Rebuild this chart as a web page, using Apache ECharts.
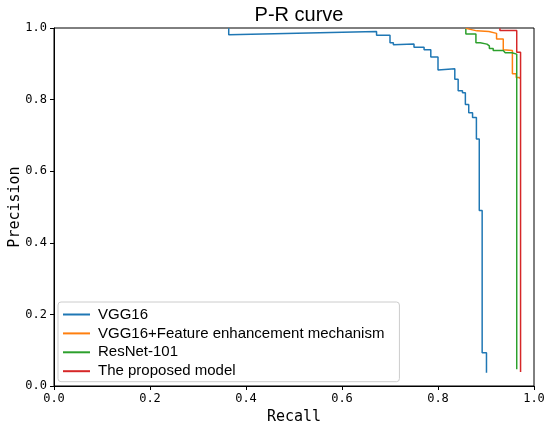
<!DOCTYPE html>
<html>
<head>
<meta charset="utf-8">
<script src="https://cdn.jsdelivr.net/npm/echarts@6/dist/echarts.min.js"></script>
<style>
html,body{margin:0;padding:0;background:#fff;}
#chart{width:550px;height:429px;}
</style>
</head>
<body>
<div id="chart"></div>
<script>
// Series names
const seriesNames = ['VGG16', 'VGG16+Feature enhancement mechanism', 'ResNet-101', 'The proposed model'];
// Tick values
const tickValues = [0, 0.2, 0.4, 0.6, 0.8, 1.0];

// [recall, precision] points
const vgg16 = [
  [0.364, 0.999], [0.364, 0.981], [0.672, 0.990], [0.672, 0.980], [0.700, 0.980],
  [0.700, 0.959], [0.707, 0.959], [0.707, 0.953], [0.750, 0.955], [0.750, 0.946],
  [0.771, 0.946], [0.771, 0.939], [0.785, 0.939], [0.785, 0.919], [0.800, 0.919],
  [0.800, 0.883], [0.835, 0.886], [0.835, 0.857], [0.842, 0.857], [0.842, 0.825],
  [0.851, 0.825], [0.851, 0.819], [0.857, 0.819], [0.857, 0.786], [0.864, 0.786],
  [0.864, 0.763], [0.872, 0.763], [0.872, 0.750], [0.880, 0.750], [0.880, 0.690],
  [0.886, 0.690], [0.886, 0.490], [0.892, 0.490], [0.892, 0.093], [0.901, 0.093],
  [0.901, 0.037]
];
const vggFeature = [
  [0.858, 0.999], [0.858, 0.994], [0.881, 0.992], [0.906, 0.990], [0.906, 0.985],
  [0.922, 0.985], [0.922, 0.969], [0.936, 0.969], [0.936, 0.939], [0.955, 0.937],
  [0.955, 0.872], [0.963, 0.872], [0.963, 0.862], [0.970, 0.862], [0.970, 0.858]
];
const resnet101 = [
  [0.858, 0.997], [0.858, 0.983], [0.879, 0.983], [0.879, 0.959], [0.888, 0.959],
  [0.888, 0.955], [0.902, 0.955], [0.902, 0.950], [0.907, 0.950], [0.907, 0.943],
  [0.915, 0.943], [0.915, 0.937], [0.936, 0.937], [0.936, 0.934], [0.940, 0.934],
  [0.940, 0.931], [0.954, 0.931], [0.954, 0.927], [0.964, 0.927], [0.964, 0.047]
];
const proposed = [
  [0.929, 0.999], [0.929, 0.993], [0.964, 0.993], [0.964, 0.932], [0.972, 0.932],
  [0.972, 0.039]
];

const seriesData = [vgg16, vggFeature, resnet101, proposed];
const colors = ['#1f77b4', '#ff7f0e', '#2ca02c', '#d62728'];

const chart = echarts.init(document.getElementById('chart'), null, {renderer: 'canvas'});

const monoFont = 'DejaVu Sans Mono';
const axisCommon = {
  type: 'value',
  min: 0,
  max: 1,
  interval: 0.2,
  splitLine: {show: false},
  axisLine: {show: true, onZero: false, lineStyle: {color: '#000', width: 1}},
  axisTick: {show: true, length: 4, lineStyle: {color: '#000', width: 1}},
  axisLabel: {
    color: '#000',
    fontFamily: monoFont,
    fontSize: 12,
    formatter: function (v) {
      for (const t of tickValues) { if (Math.abs(t - v) < 1e-9) return t.toFixed(1); }
      return '';
    }
  },
  nameLocation: 'middle',
  nameMoveOverlap: false,
  nameTextStyle: {color: '#000', fontFamily: monoFont, fontSize: 15}
};

chart.setOption({
  animation: false,
  backgroundColor: '#fff',
  title: {
    text: 'P-R curve',
    left: 294,
    textAlign: 'center',
    top: 0,
    textStyle: {fontFamily: 'Liberation Sans', fontSize: 20, fontWeight: 'normal', color: '#000'}
  },
  grid: {
    left: 54, right: 16, top: 28, bottom: 43,
    show: true, borderColor: '#000', borderWidth: 1, backgroundColor: 'transparent',
    containLabel: false,
    outerBoundsMode: 'none'
  },
  legend: {
    orient: 'vertical',
    left: 58,
    top: 302,
    itemWidth: 27,
    itemHeight: 2,
    itemGap: 3.9,
    padding: [5, 15, 3, 5],
    borderColor: '#cccccc',
    borderWidth: 1,
    borderRadius: 3,
    backgroundColor: 'rgba(255,255,255,0.8)',
    textStyle: {fontFamily: 'Liberation Sans', fontSize: 15, color: '#000', lineHeight: 14, padding: [0, 0, 0, 3]},
    data: seriesNames.map(function (n) { return {name: n, icon: 'rect'}; })
  },
  xAxis: Object.assign({}, axisCommon, {
    name: 'Recall',
    nameGap: 24,
    axisLabel: Object.assign({}, axisCommon.axisLabel, {margin: 7})
  }),
  yAxis: Object.assign({}, axisCommon, {
    name: 'Precision',
    nameGap: 31,
    axisLabel: Object.assign({}, axisCommon.axisLabel, {margin: 7})
  }),
  series: seriesData.map(function (d, i) {
    return {
      name: seriesNames[i],
      type: 'line',
      data: d,
      symbol: 'none',
      showSymbol: false,
      clip: true,
      lineStyle: {color: colors[i], width: 1.5},
      itemStyle: {color: colors[i]}
    };
  })
});
</script>
</body>
</html>
